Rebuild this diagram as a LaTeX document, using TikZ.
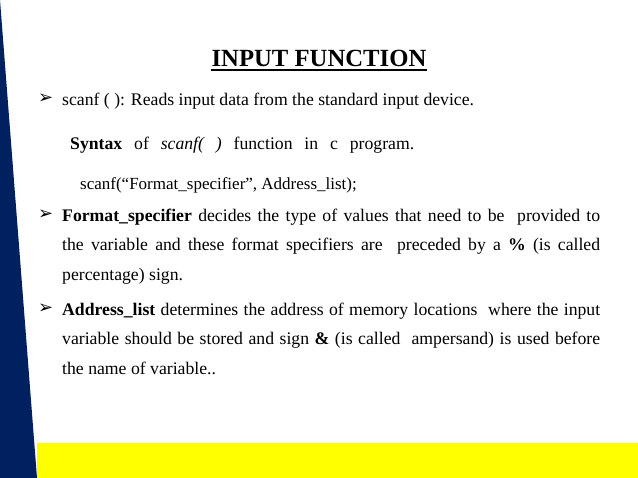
\documentclass[tikz,border=0pt]{standalone}
\usepackage{fontspec}
\setmainfont{Liberation Serif}
\newfontfamily\bulletfont{DejaVu Sans}
\definecolor{sidenavy}{HTML}{002060}
\definecolor{baryellow}{HTML}{FFFF00}
\hbadness=10000
\hfuzz=20pt
\newcommand{\jline}[2][538pt]{\hbox to #1{#2}}
\begin{document}
\begin{tikzpicture}[x=1pt,y=-1pt,
  body/.style={anchor=base west,inner sep=0pt,font=\fontsize{17.7}{20}\selectfont},
  bullet/.style={anchor=base west,inner sep=0pt,font=\bulletfont\fontsize{18}{20}\selectfont},
  title/.style={anchor=base,inner sep=0pt,font=\fontsize{24.7}{28}\bfseries\selectfont}]
  \useasboundingbox (0,0) rectangle (638,478);
  \fill[baryellow] (37,443) rectangle (638,478);
  \fill[sidenavy] (0,0) -- (37,478) -- (0,478) -- cycle;

  \node[title] (head) at (319,66.5) {INPUT FUNCTION};
  \draw[line width=2.4pt] ([yshift=-3.5pt]head.base west) -- ([yshift=-3.5pt]head.base east);

  \node[bullet] (b1) at (38,104) {➢};
  \node[body] (scan) at (62,106) {scanf ( ): Reads input data from the standard input device.};
  \node[body] (syn) at (70,150) {\jline[344pt]{\textbf{Syntax}\ \ of\ \ \textit{scanf(\ \ )}\ \ function\ \ in\ \ c\ \ program.}};
  \node[body,font=\fontsize{17}{20}\selectfont] (call) at (80,190) {scanf(“Format\_specifier”, Address\_list);};

  \node[bullet] (b2) at (38,220) {➢};
  \node[body] (f1) at (62,222) {\jline{\textbf{Format\_specifier} decides the type of values that need to be\ \ provided to}};
  \node[body] (f2) at (62,251) {\jline{the variable and these format specifiers are\ \ preceded by a \textbf{\%} (is called}};
  \node[body] (f3) at (62,281) {percentage) sign.};

  \node[bullet] (b3) at (38,314) {➢};
  \node[body] (a1) at (62,316) {\jline{\textbf{Address\_list} determines the address of memory locations\ \ where the input}};
  \node[body] (a2) at (62,345) {\jline{variable should be stored and sign \textbf{\&} (is called\ \ ampersand) is used before}};
  \node[body] (a3) at (62,375) {the name of variable..};
\end{tikzpicture}
\end{document}
